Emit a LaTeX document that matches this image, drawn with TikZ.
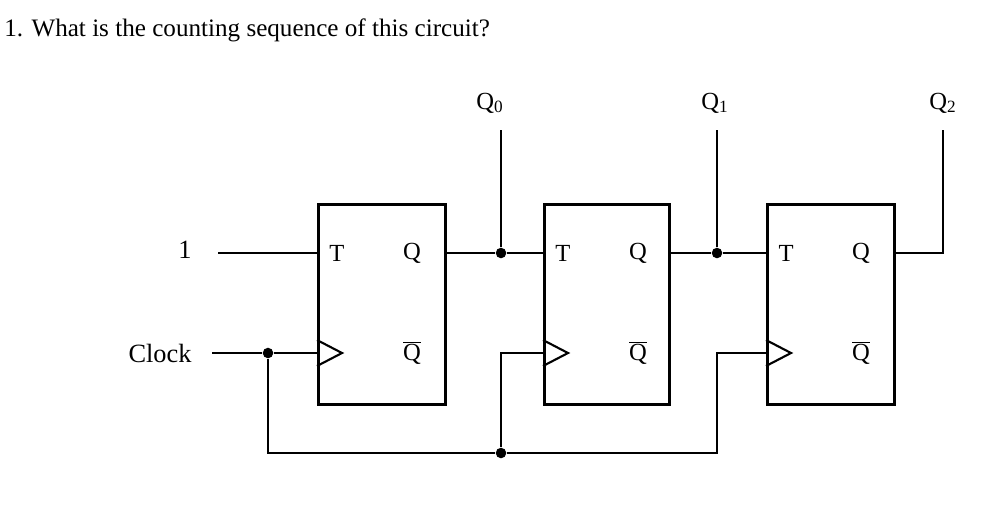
\documentclass[tikz,border=0pt]{standalone}
\usepackage{fontspec}
\setmainfont{Liberation Serif}
\begin{document}
\begin{tikzpicture}[x=0.02cm,y=-0.02cm]
\tikzstyle{ff}=[rectangle,draw,line width=1.6pt,anchor=north west,inner sep=0pt]
\tikzstyle{wire}=[line width=1.2pt]
\tikzstyle{dot}=[circle,fill,inner sep=0pt,minimum size=6pt]
\tikzstyle{lbl}=[font=\fontsize{14}{16}\selectfont,inner sep=1pt]
\useasboundingbox (0,0) rectangle (986,512);
\node[anchor=west,font=\fontsize{14.3}{16}\selectfont,inner sep=0pt] (title) at (4,30) {1. What is the counting sequence of this circuit?};
% flip-flops
\foreach \n/\x/\w in {a/317/127, b/543/125, c/766/127}{
 \node[ff, minimum width=\w*0.02cm, minimum height=200*0.02cm] (ff\n) at (\x,203) {};
 \node[lbl] (t\n) at (\x+20,253) {T};
 \node[lbl] (q\n) at (\x+95,253) {Q};
 \node[lbl] (qb\n) at (\x+95,353) {$\overline{\mbox{Q}}$};
 \draw[line width=1.2pt] (\x,340) -- (\x+25,353) -- (\x,366);
}
% inputs
\node[lbl,font=\fontsize{15}{17}\selectfont] (one) at (185,250) {1};
\node[lbl,font=\fontsize{15}{17}\selectfont] (clk) at (160,353) {Clock};
\node[lbl] (o0) at (490,103) {Q\textsubscript{0}};
\node[lbl] (o1) at (715,103) {Q\textsubscript{1}};
\node[lbl] (o2) at (943,103) {Q\textsubscript{2}};
\coordinate (ta) at (317,253);
\coordinate (tb) at (543,253);
\coordinate (tc) at (766,253);
\coordinate (ca) at (317,353);
\coordinate (cb) at (543,353);
\coordinate (cc) at (766,353);
\node[dot] (d0) at (501,253) {};
\node[dot] (d1) at (717,253) {};
\node[dot] (dk) at (268,353) {};
\node[dot] (db) at (501,453) {};
\coordinate (qa) at (444,253);
\coordinate (qb) at (668,253);
\coordinate (qc) at (893,253);
% wiring
\draw[wire] (218,253) -- (ta);
\draw[wire] (212,353) -- (dk) -- (ca);
\draw[wire] (qa) -- (d0) -- (tb);
\draw[wire] (d0) -- (501,130);
\draw[wire] (qb) -- (d1) -- (tc);
\draw[wire] (d1) -- (717,130);
\draw[wire] (qc) -- (943,253) -- (943,130);
\draw[wire] (dk) |- (db) -| (717,353) -- (cc);
\draw[wire] (db) |- (cb);
\end{tikzpicture}
\end{document}
